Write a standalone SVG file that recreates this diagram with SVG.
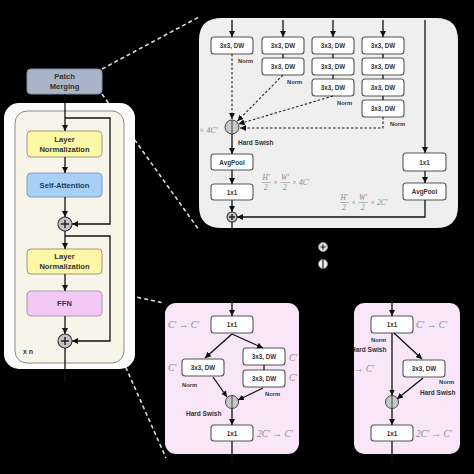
<svg xmlns="http://www.w3.org/2000/svg" width="474" height="474" viewBox="0 0 474 474">
<defs>
<marker id="ah" viewBox="0 0 10 10" refX="10" refY="5" markerWidth="6" markerHeight="6" markerUnits="userSpaceOnUse" orient="auto"><path d="M0,0 L10,5 L0,10 z" fill="#111"/></marker>
<clipPath id="clipR"><rect x="354" y="303" width="106" height="151" rx="10"/></clipPath>
<clipPath id="clipT"><path d="M222,18 H436 Q458,18 458,40 V206 Q458,228 436,228 H222 Q199,228 199,206 V40 Q199,18 222,18 Z"/></clipPath>
</defs>
<style>
.ln{stroke:#111;stroke-width:1.3;fill:none}
.ar{stroke:#111;stroke-width:1.3;fill:none;marker-end:url(#ah)}
.da{stroke:#222;stroke-width:1.1;fill:none;stroke-dasharray:2.5 2;marker-end:url(#ah)}
.dc{stroke:#d9d9d9;stroke-width:1.6;fill:none;stroke-dasharray:4 3}
.box{fill:#fff;stroke:#555;stroke-width:1.1}
.bt{font-family:"Liberation Sans",Arial,sans-serif;font-weight:bold;font-size:6.3px;fill:#333;text-anchor:middle}
.lb{font-family:"Liberation Sans",Arial,sans-serif;font-weight:bold;font-size:6.3px;fill:#333}
.big{font-family:"Liberation Sans",Arial,sans-serif;font-weight:bold;font-size:7.6px;fill:#333;text-anchor:middle}
.m{font-family:"Liberation Serif","Times New Roman",serif;font-style:italic;font-size:9.5px;fill:#8a8a8a}
.mc{font-family:"Liberation Serif","Times New Roman",serif;font-style:italic;font-size:7.5px;fill:#8a8a8a;text-anchor:start}
.plus{fill:#c4c4c4;stroke:#333;stroke-width:1.1}
.pl{stroke:#222;stroke-width:1.5}
.split{fill:#c8c8c8;stroke:#444;stroke-width:1}
</style>
<rect width="474" height="474" fill="#000"/>

<g id="zoom-connectors">
<path class="dc" d="M102,69 L199,17"/>
<path class="dc" d="M102,94 L199,230"/>
<path class="dc" d="M103,290 L164,303"/>
<path class="dc" d="M103,316 L166,458"/>
</g>

<g id="outer-block"><rect x="4" y="103" width="131" height="266" rx="15" fill="#fdfdfd"/></g>
<g id="inner-block"><rect x="15" y="111" width="109" height="252" rx="12" fill="#f7f4ea" stroke="#8a8a8a" stroke-width="1"/>
<text x="23" y="354" class="lb" style="font-size:7px">x n</text></g>

<g id="patch-merging"><rect x="27" y="69" width="75" height="25" rx="4" fill="#a8b5c9" stroke="#8593a8" stroke-width="1"/>
<text x="64.5" y="79" class="big">Patch</text><text x="64.5" y="89" class="big">Merging</text></g>

<g id="layer-norm-1"><rect x="27" y="131" width="75" height="26" rx="4" fill="#fcf8a6" stroke="#9a9a80" stroke-width="1"/>
<text x="64.5" y="142" class="big">Layer</text><text x="64.5" y="152" class="big">Normalization</text></g>

<g id="self-attention"><rect x="27" y="173" width="75" height="24" rx="4" fill="#a9cff5" stroke="#7d9fc2" stroke-width="1"/>
<text x="64.5" y="188" class="big" style="fill:#1e3a5c">Self-Attention</text></g>

<g id="add-1"><circle cx="65" cy="224" r="7" class="plus"/><path class="pl" d="M61,224 H69 M65,220 V228"/></g>

<g id="layer-norm-2"><rect x="27" y="249" width="75" height="25" rx="4" fill="#fcf8a6" stroke="#9a9a80" stroke-width="1"/>
<text x="64.5" y="259" class="big">Layer</text><text x="64.5" y="269" class="big">Normalization</text></g>

<g id="ffn"><rect x="27" y="291" width="75" height="25" rx="4" fill="#f4c8f4" stroke="#ad97ad" stroke-width="1"/>
<text x="64.5" y="306" class="big">FFN</text></g>

<g id="add-2"><circle cx="65" cy="341" r="7" class="plus"/><path class="pl" d="M61,341 H69 M65,337 V345"/></g>

<g id="left-connectors">
<path class="ar" d="M65,94 V131"/>
<path class="ar" d="M65,157 V173"/>
<path class="ar" d="M65,197 V217"/>
<path class="ar" d="M65,231 V249"/>
<path class="ar" d="M65,274 V291"/>
<path class="ar" d="M65,316 V334"/>
<path class="ln" d="M65,348 V382"/>
<path class="ar" d="M65,118 H110 V224 H72"/>
<path class="ar" d="M65,236 H110 V341 H72"/>
</g>

<g id="top-panel"><path d="M222,18 H436 Q458,18 458,40 V206 Q458,228 436,228 H222 Q199,228 199,206 V40 Q199,18 222,18 Z" fill="#efefef"/></g>

<g id="dw-c1"><rect x="211" y="37" width="42" height="17" rx="3" class="box"/><text x="232" y="48" class="bt">3x3, DW</text></g>
<g id="dw-c2a"><rect x="262" y="37" width="42" height="17" rx="3" class="box"/><text x="283" y="48" class="bt">3x3, DW</text></g>
<g id="dw-c2b"><rect x="262" y="58" width="42" height="17" rx="3" class="box"/><text x="283" y="69" class="bt">3x3, DW</text></g>
<g id="dw-c3a"><rect x="312" y="37" width="42" height="17" rx="3" class="box"/><text x="333" y="48" class="bt">3x3, DW</text></g>
<g id="dw-c3b"><rect x="312" y="58" width="42" height="17" rx="3" class="box"/><text x="333" y="69" class="bt">3x3, DW</text></g>
<g id="dw-c3c"><rect x="312" y="79" width="42" height="17" rx="3" class="box"/><text x="333" y="90" class="bt">3x3, DW</text></g>
<g id="dw-c4a"><rect x="362" y="37" width="42" height="17" rx="3" class="box"/><text x="383" y="48" class="bt">3x3, DW</text></g>
<g id="dw-c4b"><rect x="362" y="58" width="42" height="17" rx="3" class="box"/><text x="383" y="69" class="bt">3x3, DW</text></g>
<g id="dw-c4c"><rect x="362" y="79" width="42" height="17" rx="3" class="box"/><text x="383" y="90" class="bt">3x3, DW</text></g>
<g id="dw-c4d"><rect x="362" y="100" width="42" height="17" rx="3" class="box"/><text x="383" y="111" class="bt">3x3, DW</text></g>

<g id="top-labels">
<text x="238" y="63" class="lb" style="font-size:5.8px">Norm</text>
<text x="287" y="84" class="lb" style="font-size:5.8px">Norm</text>
<text x="337" y="105" class="lb" style="font-size:5.8px">Norm</text>
<text x="390" y="126" class="lb" style="font-size:5.8px">Norm</text>
<text x="238" y="145" class="lb" style="font-size:6.5px">Hard Swish</text>
<g clip-path="url(#clipT)"><text x="199" y="133" class="m" style="font-size:8px">× 4C′</text></g>
</g>

<g id="concat-top"><circle cx="232" cy="127" r="7" class="split"/><path d="M232,120 V134" stroke="#444" stroke-width="1"/></g>

<g id="avgpool-1"><rect x="211" y="154" width="42" height="16" rx="3" class="box"/><text x="232" y="164.5" class="bt">AvgPool</text></g>
<g id="conv1x1-1"><rect x="211" y="184" width="42" height="16" rx="3" class="box"/><text x="232" y="194.5" class="bt">1x1</text></g>
<g id="add-top"><circle cx="232" cy="217" r="5" class="plus"/><path class="pl" d="M229,217 H235 M232,214 V220"/></g>
<g id="conv1x1-2"><rect x="403" y="153" width="43" height="18" rx="3" class="box"/><text x="424.5" y="164.5" class="bt">1x1</text></g>
<g id="avgpool-2"><rect x="403" y="183" width="43" height="17" rx="3" class="box"/><text x="424.5" y="194" class="bt">AvgPool</text></g>

<g id="dim-labels-top">
<text x="262.5" y="180" class="mc">H′</text>
<path d="M262,182.5 H271" stroke="#8a8a8a" stroke-width="0.6"/>
<text x="264" y="189.5" class="mc">2</text>
<text x="273" y="185" class="m" style="font-size:7.5px">×</text>
<text x="281" y="180" class="mc">W′</text>
<path d="M280.5,182.5 H290" stroke="#8a8a8a" stroke-width="0.6"/>
<text x="283" y="189.5" class="mc">2</text>
<text x="292" y="185" class="m" style="font-size:7.5px">× 4C′</text>
<text x="340.5" y="200" class="mc">H′</text>
<path d="M340,202.5 H349" stroke="#8a8a8a" stroke-width="0.6"/>
<text x="342" y="209.5" class="mc">2</text>
<text x="351" y="205" class="m" style="font-size:7.5px">×</text>
<text x="359" y="200" class="mc">W′</text>
<path d="M358.5,202.5 H368" stroke="#8a8a8a" stroke-width="0.6"/>
<text x="361" y="209.5" class="mc">2</text>
<text x="370" y="205" class="m" style="font-size:7.5px">× 2C′</text>
</g>

<g id="top-connectors">
<path class="ar" d="M232,20 V37"/>
<path class="ar" d="M283,20 V37"/>
<path class="ar" d="M333,20 V37"/>
<path class="ar" d="M383,20 V37"/>
<path class="ln" d="M283,54 V58 M333,54 V58 M333,75 V79 M383,54 V58 M383,75 V79 M383,96 V100"/>
<path class="da" d="M232,54 V119"/>
<path class="da" d="M283,75 L237.5,121"/>
<path class="da" d="M333,96 L238.5,124"/>
<path class="da" d="M383,117 V128 H240"/>
<path class="ar" d="M232,134 V154"/>
<path class="ar" d="M232,170 V184"/>
<path class="ar" d="M232,200 V212"/>
<path class="ln" d="M232,222 V234"/>
<path class="ar" d="M425,20 V153"/>
<path class="ar" d="M425,171 V183"/>
<path class="ar" d="M425,200 V217 H237"/>
</g>

<g id="legend">
<circle cx="323" cy="247" r="4.5" fill="#ddd" stroke="#999" stroke-width="0.8"/><path d="M320.5,247 H325.5 M323,244.5 V249.5" stroke="#222" stroke-width="1.2"/>
<circle cx="323" cy="264" r="4.5" fill="#eee" stroke="#999" stroke-width="0.8"/><path d="M323,259.5 V268.5" stroke="#222" stroke-width="1.2"/>
</g>

<g id="ffn-panel-a"><rect x="165" y="303" width="134" height="151" rx="11" fill="#f9e6f9"/></g>
<g id="a-conv1"><rect x="211" y="316" width="42" height="17" rx="3" class="box"/><text x="232" y="327" class="bt">1x1</text></g>
<g id="a-dw-left"><rect x="182" y="359" width="42" height="17" rx="3" class="box"/><text x="203" y="370" class="bt">3x3, DW</text></g>
<g id="a-dw-r1"><rect x="243" y="348" width="42" height="17" rx="3" class="box"/><text x="264" y="359" class="bt">3x3, DW</text></g>
<g id="a-dw-r2"><rect x="243" y="370" width="42" height="17" rx="3" class="box"/><text x="264" y="381" class="bt">3x3, DW</text></g>
<g id="a-concat"><circle cx="232" cy="402" r="6.5" class="split"/><path d="M232,395.5 V408.5" stroke="#444" stroke-width="1"/></g>
<g id="a-conv2"><rect x="211" y="425" width="42" height="16" rx="3" class="box"/><text x="232" y="435.5" class="bt">1x1</text></g>
<g id="a-labels">
<text x="168" y="328" class="m">C′ → C′</text>
<text x="168" y="371" class="m">C′</text>
<text x="289" y="361" class="m">C′</text>
<text x="289" y="381" class="m">C′</text>
<text x="182" y="387" class="lb" style="font-size:5.8px">Norm</text>
<text x="265" y="396" class="lb" style="font-size:5.8px">Norm</text>
<text x="186" y="416" class="lb" style="font-size:6.5px">Hard Swish</text>
<text x="257" y="437" class="m">2C′ → C′</text>
</g>
<g id="a-connectors">
<path class="ar" d="M232,296 V316"/>
<path class="ar" d="M232,334 L205,358"/>
<path class="ar" d="M232,334 L263,348"/>
<path class="ln" d="M264,365 V370"/>
<path class="ar" d="M213,377 L227,397"/>
<path class="ar" d="M263,388 L238,400"/>
<path class="ar" d="M232,408.5 V425"/>
<path class="ln" d="M232,441 V464"/>
</g>

<g id="ffn-panel-b"><rect x="354" y="303" width="106" height="151" rx="10" fill="#f9e6f9"/></g>
<g id="b-conv1"><rect x="371" y="316" width="42" height="17" rx="3" class="box"/><text x="392" y="327" class="bt">1x1</text></g>
<g id="b-dw"><rect x="403" y="360" width="42" height="17" rx="3" class="box"/><text x="424" y="371" class="bt">3x3, DW</text></g>
<g id="b-concat"><circle cx="392" cy="402" r="6.5" class="split"/><path d="M392,395.5 V408.5" stroke="#444" stroke-width="1"/></g>
<g id="b-conv2"><rect x="371" y="425" width="42" height="16" rx="3" class="box"/><text x="392" y="435.5" class="bt">1x1</text></g>
<g id="b-labels">
<text x="416" y="328" class="m">C′ → C′</text>
<text x="371" y="342" class="lb" style="font-size:5.8px">Norm</text>
<g clip-path="url(#clipR)">
<text x="351" y="352" class="lb" style="font-size:6.5px">Hard Swish</text>
<text x="343" y="372" class="m">C′ → C′</text>
</g>
<text x="439" y="384" class="lb" style="font-size:5.8px">Norm</text>
<text x="420" y="395" class="lb" style="font-size:6.5px">Hard Swish</text>
<text x="416" y="437" class="m">2C′ → C′</text>
</g>
<g id="b-connectors">
<path class="ar" d="M392,296 V316"/>
<path class="ar" d="M392,333 V395.5"/>
<path class="ar" d="M394,333 L422,359"/>
<path class="ar" d="M423,378 L397,399"/>
<path class="ar" d="M392,408.5 V425"/>
<path class="ln" d="M392,441 V464"/>
</g>
</svg>
